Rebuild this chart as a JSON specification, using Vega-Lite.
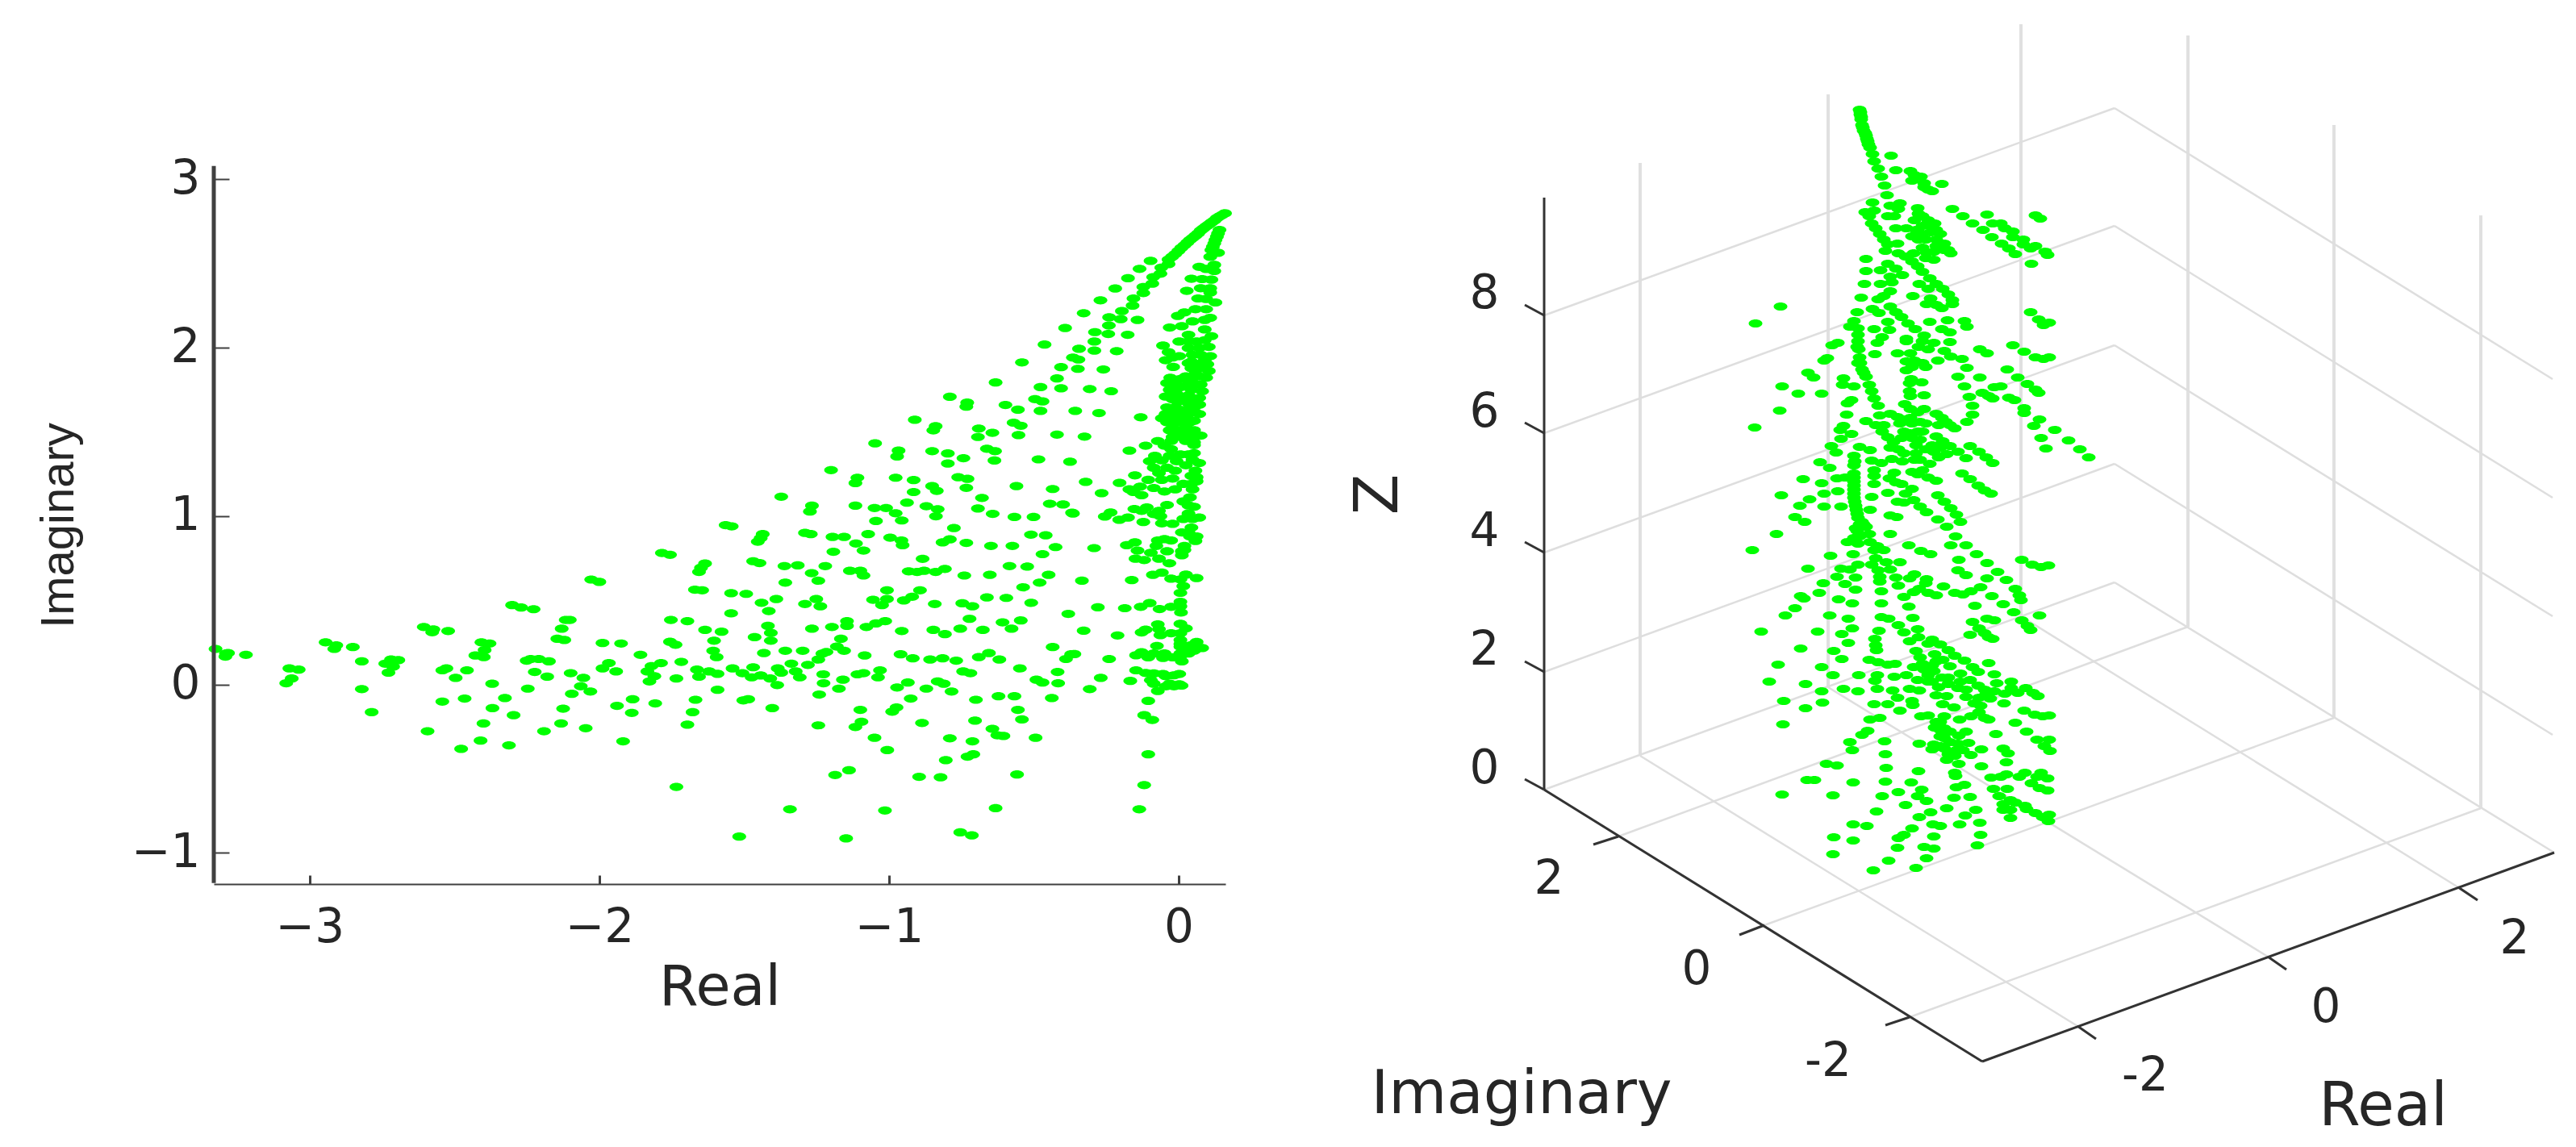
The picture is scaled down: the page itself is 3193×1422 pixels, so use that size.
{"$schema":"https://vega.github.io/schema/vega-lite/v6.json","padding":{"left":44,"top":0,"right":0,"bottom":0},"background":"white","bounds":"flush","spacing":81,"config":{"view":{"stroke":null}},
"datasets":{"left":[
{"r":-3.325,"i":0.211},{"r":-3.289,"i":0.183},{"r":-3.282,"i":0.186},{"r":-3.291,"i":0.165},{"r":-3.22,"i":0.176},{"r":-3.07,"i":0.095},{"r":-3.038,"i":0.088},{"r":-3.062,"i":0.035},{"r":-3.081,"i":0.007},{"r":-2.945,"i":0.25},{"r":-2.908,"i":0.232},{"r":-2.915,"i":0.211},{"r":-2.851,"i":0.222},{"r":-2.82,"i":0.137},{"r":-2.82,"i":-0.028},{"r":-2.786,"i":-0.165},{"r":-2.739,"i":0.123},{"r":-2.719,"i":0.148},{"r":-2.694,"i":0.144},{"r":-2.712,"i":0.106},{"r":-2.728,"i":0.07},{"r":-2.606,"i":0.341},{"r":-2.573,"i":0.327},{"r":-2.577,"i":0.31},{"r":-2.522,"i":0.317},{"r":-2.542,"i":0.084},{"r":-2.528,"i":0.095},{"r":-2.496,"i":0.039},{"r":-2.457,"i":0.084},{"r":-2.542,"i":-0.102},{"r":-2.465,"i":-0.084},{"r":-2.593,"i":-0.278},{"r":-2.477,"i":-0.383},{"r":-2.41,"i":-0.334},{"r":-2.4,"i":-0.232},{"r":-2.369,"i":-0.141},{"r":-2.326,"i":-0.081},{"r":-2.37,"i":0.004},{"r":-2.296,"i":-0.183},{"r":-2.312,"i":-0.362},{"r":-2.407,"i":0.25},{"r":-2.379,"i":0.243},{"r":-2.396,"i":0.204},{"r":-2.428,"i":0.172},{"r":-2.399,"i":0.162},{"r":-2.301,"i":0.471},{"r":-2.27,"i":0.457},{"r":-2.227,"i":0.447},{"r":-2.251,"i":0.141},{"r":-2.237,"i":0.151},{"r":-2.209,"i":0.151},{"r":-2.174,"i":0.137},{"r":-2.223,"i":0.074},{"r":-2.18,"i":0.046},{"r":-2.247,"i":-0.025},{"r":-2.191,"i":-0.278},{"r":-2.132,"i":-0.232},{"r":-2.125,"i":-0.144},{"r":-2.095,"i":-0.056},{"r":-2.099,"i":0.067},{"r":-2.055,"i":0.039},{"r":-2.064,"i":-0.011},{"r":-2.031,"i":-0.042},{"r":-2.047,"i":-0.26},{"r":-2.145,"i":0.271},{"r":-2.121,"i":0.264},{"r":-2.13,"i":0.331},{"r":-2.116,"i":0.383},{"r":-2.102,"i":0.383},{"r":-2.028,"i":0.623},{"r":-2.0,"i":0.609},{"r":-1.989,"i":0.246},{"r":-1.925,"i":0.243},{"r":-1.989,"i":0.095},{"r":-1.967,"i":0.127},{"r":-1.942,"i":0.077},{"r":-1.939,"i":-0.127},{"r":-1.885,"i":-0.088},{"r":-1.888,"i":-0.169},{"r":-1.918,"i":-0.338},{"r":-1.858,"i":0.176},
{"r":-0.392,"i":2.117},{"r":-0.463,"i":2.019},{"r":-0.541,"i":1.913},{"r":-0.632,"i":1.794},{"r":-0.79,"i":1.709},{"r":-0.73,"i":1.674},{"r":-0.733,"i":1.65},{"r":-0.911,"i":1.572},{"r":-0.839,"i":1.534},{"r":-0.847,"i":1.509},{"r":-1.048,"i":1.432},{"r":-0.967,"i":1.389},{"r":-0.972,"i":1.354},{"r":-1.2,"i":1.273},{"r":-1.109,"i":1.228},{"r":-1.116,"i":1.196},{"r":-1.372,"i":1.115},{"r":-1.266,"i":1.062},{"r":-1.273,"i":1.027},{"r":-1.564,"i":0.946},{"r":-1.543,"i":0.939},{"r":-1.784,"i":0.781},{"r":-1.756,"i":0.77},
{"r":-0.477,"i":1.766},{"r":-0.496,"i":1.695},{"r":-0.47,"i":1.681},{"r":-0.477,"i":1.625},{"r":-0.598,"i":1.66},{"r":-0.555,"i":1.632},{"r":-0.57,"i":1.555},{"r":-0.545,"i":1.537},{"r":-0.553,"i":1.481},{"r":-0.69,"i":1.52},{"r":-0.643,"i":1.495},{"r":-0.693,"i":1.47},{"r":-0.42,"i":1.484},{"r":-0.406,"i":1.885},{"r":-0.42,"i":1.818},{"r":-0.406,"i":1.759},{"r":-0.851,"i":1.386},{"r":-0.797,"i":1.372},{"r":-0.743,"i":1.344},{"r":-0.797,"i":1.312},{"r":-0.662,"i":1.4},{"r":-0.634,"i":1.386},{"r":-0.636,"i":1.33},{"r":-0.484,"i":1.337},{"r":-0.375,"i":1.323},{"r":-0.977,"i":1.228},{"r":-0.915,"i":1.214},{"r":-0.915,"i":1.143},{"r":-0.851,"i":1.178},{"r":-0.835,"i":1.15},{"r":-0.761,"i":1.231},{"r":-0.729,"i":1.221},{"r":-0.733,"i":1.168},{"r":-0.679,"i":1.108},{"r":-0.56,"i":1.178},{"r":-0.435,"i":1.161},{"r":-0.938,"i":1.08},{"r":-0.871,"i":1.059},{"r":-0.832,"i":1.041},{"r":-0.838,"i":0.999},{"r":-0.693,"i":1.045},{"r":-0.642,"i":1.013},{"r":-0.567,"i":0.995},{"r":-0.501,"i":0.995},{"r":-0.445,"i":1.073},{"r":-0.399,"i":1.069},{"r":-0.368,"i":1.02},{"r":-1.116,"i":1.062},{"r":-1.05,"i":1.048},{"r":-1.01,"i":1.048},{"r":-0.977,"i":1.017},{"r":-0.956,"i":0.974},{"r":-1.045,"i":0.971},{"r":-0.776,"i":0.929},{"r":-0.51,"i":0.89},{"r":-0.459,"i":0.886},{"r":-0.425,"i":0.816},{"r":-0.47,"i":0.774},{"r":-0.648,"i":0.823},{"r":-0.574,"i":0.823},{"r":-0.733,"i":0.841},{"r":-0.815,"i":0.844},{"r":-0.79,"i":0.862},{"r":-0.996,"i":0.872},{"r":-0.957,"i":0.855},{"r":-0.953,"i":0.827},{"r":-1.072,"i":0.893},{"r":-1.195,"i":0.876},{"r":-1.155,"i":0.876},{"r":-1.114,"i":0.837},{"r":-1.088,"i":0.795},{"r":-1.192,"i":0.788},{"r":-1.29,"i":0.9},{"r":-1.27,"i":0.893},{"r":-1.436,"i":0.893},{"r":-1.443,"i":0.869},{"r":-1.453,"i":0.848},{"r":-1.469,"i":0.732},{"r":-1.447,"i":0.721},{"r":-1.361,"i":0.703},{"r":-1.315,"i":0.707},{"r":-1.22,"i":0.703},{"r":-1.267,"i":0.661},{"r":-1.244,"i":0.616},{"r":-1.135,"i":0.675},{"r":-1.099,"i":0.675},{"r":-1.088,"i":0.647},{"r":-0.884,"i":0.746},{"r":-0.932,"i":0.672},{"r":-0.903,"i":0.668},{"r":-0.879,"i":0.675},{"r":-0.839,"i":0.668},{"r":-0.807,"i":0.686},{"r":-0.74,"i":0.647},{"r":-0.652,"i":0.651},{"r":-0.584,"i":0.703},{"r":-0.523,"i":0.7},{"r":-0.449,"i":0.651},{"r":-0.48,"i":0.605},{"r":-0.537,"i":0.577},{"r":-1.635,"i":0.718},{"r":-1.649,"i":0.693},{"r":-1.656,"i":0.668},{"r":-1.67,"i":0.563},{"r":-1.645,"i":0.559},{"r":-1.545,"i":0.542},{"r":-1.493,"i":0.538},{"r":-1.358,"i":0.605},{"r":-1.389,"i":0.507},{"r":-1.44,"i":0.485},{"r":-1.415,"i":0.436},{"r":-1.545,"i":0.422},{"r":-1.29,"i":0.478},{"r":-1.251,"i":0.507},{"r":-1.237,"i":0.464},{"r":-1.007,"i":0.559},{"r":-0.893,"i":0.559},{"r":-1.007,"i":0.507},{"r":-1.055,"i":0.503},{"r":-1.024,"i":0.471},{"r":-0.949,"i":0.499},{"r":-0.92,"i":0.521},{"r":-0.842,"i":0.478},{"r":-0.747,"i":0.482},{"r":-0.712,"i":0.464},{"r":-0.662,"i":0.517},{"r":-0.595,"i":0.514},{"r":-0.509,"i":0.485},{"r":-0.381,"i":0.419},{"r":-0.722,"i":0.39},{"r":-0.608,"i":0.369},{"r":-0.545,"i":0.38},{"r":-1.753,"i":0.383},{"r":-1.696,"i":0.376},{"r":-1.635,"i":0.324},{"r":-1.578,"i":0.313},{"r":-1.418,"i":0.348},{"r":-1.408,"i":0.306},{"r":-1.464,"i":0.281},{"r":-1.408,"i":0.26},{"r":-1.604,"i":0.26},{"r":-1.607,"i":0.2},{"r":-1.595,"i":0.162},{"r":-1.266,"i":0.331},{"r":-1.197,"i":0.341},{"r":-1.145,"i":0.376},{"r":-1.145,"i":0.348},{"r":-1.078,"i":0.341},{"r":-1.045,"i":0.362},{"r":-1.013,"i":0.376},{"r":-0.956,"i":0.317},{"r":-0.847,"i":0.324},{"r":-0.807,"i":0.299},{"r":-0.754,"i":0.331},{"r":-0.676,"i":0.324},{"r":-0.577,"i":0.331},{"r":-1.166,"i":0.271},{"r":-1.18,"i":0.225},{"r":-1.216,"i":0.193},{"r":-1.155,"i":0.2},{"r":-1.244,"i":0.148},{"r":-1.756,"i":0.253},{"r":-1.737,"i":0.236},{"r":-1.717,"i":0.134},{"r":-1.787,"i":0.127},{"r":-1.82,"i":0.109},{"r":-1.834,"i":0.077},{"r":-1.81,"i":0.049},{"r":-1.827,"i":0.018},{"r":-1.734,"i":0.035},{"r":-1.663,"i":0.088},{"r":-1.656,"i":0.046},{"r":-1.621,"i":0.077},{"r":-1.592,"i":0.063},{"r":-1.54,"i":0.095},{"r":-1.506,"i":0.067},{"r":-1.474,"i":0.042},{"r":-1.469,"i":0.102},{"r":-1.443,"i":0.053},{"r":-1.41,"i":0.035},{"r":-1.384,"i":0.095},{"r":-1.372,"i":0.07},{"r":-1.386,"i":-0.004},{"r":-1.337,"i":0.123},{"r":-1.322,"i":0.077},{"r":-1.308,"i":0.042},{"r":-1.28,"i":0.116},{"r":-1.432,"i":0.186},{"r":-1.358,"i":0.2},{"r":-1.298,"i":0.2},{"r":-1.23,"i":0.183},{"r":-1.084,"i":0.172},{"r":-0.96,"i":0.179},{"r":-0.918,"i":0.155},{"r":-0.858,"i":0.148},{"r":-0.815,"i":0.155},{"r":-0.768,"i":0.141},{"r":-0.69,"i":0.162},{"r":-0.655,"i":0.186},{"r":-0.619,"i":0.148},{"r":-0.435,"i":0.222},{"r":-0.371,"i":0.179},{"r":-0.389,"i":0.151},{"r":-0.548,"i":0.095},{"r":-0.491,"i":0.028},{"r":-0.47,"i":0.011},{"r":-0.418,"i":0.074},{"r":-0.416,"i":0.007},{"r":-1.088,"i":0.067},{"r":-1.109,"i":0.06},{"r":-1.031,"i":0.084},{"r":-1.038,"i":0.042},{"r":-1.227,"i":0.06},{"r":-1.226,"i":0.007},{"r":-1.159,"i":0.028},{"r":-1.173,"i":-0.025},{"r":-1.241,"i":-0.06},{"r":-0.935,"i":0.011},{"r":-0.972,"i":-0.018},{"r":-0.871,"i":-0.025},{"r":-0.832,"i":0.018},{"r":-0.811,"i":0.004},{"r":-0.784,"i":-0.042},{"r":-0.744,"i":0.077},{"r":-0.719,"i":0.067},{"r":-0.925,"i":-0.084},{"r":-0.7,"i":-0.091},{"r":-0.622,"i":-0.07},{"r":-0.567,"i":-0.07},{"r":-0.555,"i":-0.151},{"r":-0.541,"i":-0.208},{"r":-0.989,"i":-0.162},{"r":-0.974,"i":-0.137},{"r":-1.099,"i":-0.151},{"r":-1.095,"i":-0.222},{"r":-1.116,"i":-0.253},{"r":-1.244,"i":-0.243},{"r":-1.403,"i":-0.141},{"r":-1.486,"i":-0.088},{"r":-1.503,"i":-0.095},{"r":-1.592,"i":-0.032},{"r":-1.668,"i":-0.091},{"r":-1.678,"i":-0.165},{"r":-1.696,"i":-0.239},{"r":-1.807,"i":-0.113},{"r":-1.05,"i":-0.317},{"r":-1.006,"i":-0.39},{"r":-0.886,"i":-0.229},{"r":-0.79,"i":-0.32},{"r":-0.712,"i":-0.338},{"r":-0.709,"i":-0.415},{"r":-0.729,"i":-0.429},{"r":-0.804,"i":-0.45},{"r":-0.703,"i":-0.215},{"r":-0.643,"i":-0.264},{"r":-0.626,"i":-0.302},{"r":-0.605,"i":-0.306},{"r":-0.494,"i":-0.317},{"r":-0.558,"i":-0.535},{"r":-0.632,"i":-0.735},{"r":-0.896,"i":-0.549},{"r":-0.822,"i":-0.552},{"r":-1.014,"i":-0.749},{"r":-1.342,"i":-0.742},{"r":-1.186,"i":-0.538},{"r":-1.138,"i":-0.51},{"r":-1.734,"i":-0.609},{"r":-1.517,"i":-0.904},{"r":-1.148,"i":-0.915},{"r":-0.754,"i":-0.879},{"r":-0.714,"i":-0.897},{"r":-0.136,"i":-0.742},{"r":-0.119,"i":-0.598},{"r":-0.105,"i":-0.415},{"r":-0.091,"i":-0.211},{"r":-0.119,"i":-0.183},{"r":-0.105,"i":-0.098},{"r":-0.072,"i":-0.039},{"r":-0.044,"i":-0.011},{"r":-0.016,"i":-0.011},{"r":0.01,"i":-0.007},{"r":-0.307,"i":-0.028},{"r":-0.438,"i":-0.081},
{"r":0.16,"i":2.799},{"r":0.141,"i":2.78},{"r":0.123,"i":2.756},{"r":0.104,"i":2.732},{"r":0.085,"i":2.708},{"r":0.067,"i":2.679},{"r":0.048,"i":2.652},{"r":0.03,"i":2.625},{"r":0.009,"i":2.593},{"r":-0.012,"i":2.556},{"r":-0.035,"i":2.524},{"r":-0.06,"i":2.476},{"r":-0.088,"i":2.42},{"r":-0.122,"i":2.361},{"r":-0.156,"i":2.293},{"r":-0.159,"i":2.25},{"r":-0.196,"i":2.218},{"r":-0.2,"i":2.17},{"r":-0.24,"i":2.181},{"r":-0.241,"i":2.132},{"r":-0.289,"i":2.093},{"r":-0.243,"i":2.082},{"r":-0.291,"i":2.037},{"r":-0.344,"i":1.994},{"r":-0.291,"i":1.983},{"r":-0.214,"i":1.98},{"r":-0.346,"i":1.93},{"r":-0.365,"i":1.942},{"r":-0.348,"i":1.875},{"r":-0.26,"i":1.871},{"r":-0.307,"i":1.755},{"r":-0.233,"i":1.742},{"r":-0.357,"i":1.625},{"r":-0.275,"i":1.612},{"r":-0.131,"i":1.587},{"r":-0.325,"i":1.472},{"r":-0.142,"i":2.165},{"r":-0.176,"i":2.077},{"r":-0.097,"i":2.516},{"r":-0.135,"i":2.469},{"r":-0.175,"i":2.413},{"r":-0.219,"i":2.352},{"r":-0.27,"i":2.282},{"r":-0.328,"i":2.205},{"r":-0.035,"i":2.497},{"r":-0.063,"i":2.44},{"r":-0.091,"i":2.381},{"r":-0.122,"i":2.325},
{"r":0.141,"i":2.7},{"r":0.132,"i":2.66},{"r":0.123,"i":2.62},{"r":0.113,"i":2.58},{"r":0.109,"i":2.54},{"r":0.136,"i":2.564},{"r":0.123,"i":2.492},{"r":0.071,"i":2.481},{"r":0.095,"i":2.468},{"r":0.123,"i":2.456},{"r":0.044,"i":2.41},{"r":0.081,"i":2.408},{"r":0.113,"i":2.405},{"r":0.028,"i":2.338},{"r":0.076,"i":2.354},{"r":0.109,"i":2.354},{"r":0.109,"i":2.328},{"r":0.067,"i":2.293},{"r":0.095,"i":2.29},{"r":0.127,"i":2.269},{"r":0.058,"i":2.229},{"r":0.095,"i":2.229},{"r":0.02,"i":2.21},{"r":-0.003,"i":2.189},{"r":0.109,"i":2.178},{"r":0.09,"i":2.165},{"r":0.048,"i":2.157},{"r":-0.031,"i":2.12},{"r":0.011,"i":2.128},{"r":0.09,"i":2.109},{"r":0.034,"i":2.077},{"r":0.113,"i":2.069},{"r":0.002,"i":2.037},{"r":0.034,"i":2.037},{"r":0.09,"i":2.045},{"r":-0.054,"i":2.013},{"r":-0.035,"i":1.974},{"r":-0.021,"i":1.942},{"r":-0.045,"i":1.926},{"r":0.104,"i":2.005},{"r":0.109,"i":1.95},{"r":0.002,"i":1.95},{"r":0.048,"i":1.958},{"r":0.076,"i":1.958},{"r":-0.019,"i":1.886},{"r":0.099,"i":1.902},{"r":0.062,"i":1.902},{"r":0.104,"i":1.862},{"r":0.058,"i":1.846},{"r":0.095,"i":1.822},{"r":-0.029,"i":1.822},{"r":0.006,"i":1.814},{"r":-0.04,"i":1.79},{"r":0.044,"i":1.814},{"r":0.076,"i":1.782},{"r":0.081,"i":1.742},{"r":0.006,"i":1.766},{"r":-0.045,"i":1.71},{"r":-0.007,"i":1.726},{"r":0.034,"i":1.718},{"r":0.071,"i":1.702},{"r":0.071,"i":1.662},{"r":0.034,"i":1.67},{"r":-0.003,"i":1.678},{"r":-0.031,"i":1.622},{"r":0.016,"i":1.63},{"r":0.053,"i":1.622},{"r":0.071,"i":1.606},{"r":-0.058,"i":1.581},{"r":-0.017,"i":1.59},{"r":0.025,"i":1.582},{"r":0.053,"i":1.566},{"r":-0.021,"i":1.542},{"r":0.025,"i":1.526},{"r":0.053,"i":1.51},{"r":-0.031,"i":1.51},{"r":0.076,"i":1.478},{"r":0.034,"i":1.478},{"r":-0.003,"i":1.478},{"r":-0.072,"i":1.446},{"r":-0.026,"i":1.446},{"r":0.025,"i":1.446},{"r":0.053,"i":1.438},
{"r":-0.17,"i":1.389},{"r":-0.114,"i":1.418},{"r":-0.049,"i":1.418},{"r":-0.026,"i":1.398},{"r":0.053,"i":1.422},{"r":-0.082,"i":1.358},{"r":0.006,"i":1.366},{"r":0.053,"i":1.374},{"r":-0.1,"i":1.326},{"r":-0.058,"i":1.331},{"r":-0.007,"i":1.326},{"r":0.048,"i":1.334},{"r":0.071,"i":1.315},{"r":-0.086,"i":1.287},{"r":-0.012,"i":1.27},{"r":0.058,"i":1.27},{"r":-0.068,"i":1.255},{"r":-0.151,"i":1.242},{"r":0.044,"i":1.239},{"r":0.062,"i":1.231},{"r":-0.321,"i":1.203},{"r":-0.204,"i":1.197},{"r":-0.105,"i":1.215},{"r":-0.058,"i":1.215},{"r":-0.021,"i":1.223},{"r":0.016,"i":1.191},{"r":0.062,"i":1.207},{"r":-0.133,"i":1.175},{"r":-0.17,"i":1.159},{"r":-0.086,"i":1.167},{"r":-0.049,"i":1.146},{"r":-0.012,"i":1.159},{"r":-0.266,"i":1.136},{"r":-0.128,"i":1.124},{"r":-0.156,"i":1.143},{"r":0.048,"i":1.159},{"r":0.039,"i":1.111},{"r":0.016,"i":1.087},{"r":-0.04,"i":1.066},{"r":-0.153,"i":1.042},{"r":-0.11,"i":1.052},{"r":-0.128,"i":1.031},{"r":0.053,"i":1.055},{"r":-0.068,"i":1.031},{"r":-0.086,"i":1.012},{"r":-0.063,"i":0.999},{"r":-0.235,"i":1.021},{"r":-0.255,"i":0.997},{"r":-0.205,"i":0.978},{"r":-0.175,"i":0.991},{"r":-0.122,"i":0.965},{"r":-0.058,"i":0.957},{"r":-0.021,"i":0.954},{"r":0.016,"i":0.983},{"r":0.048,"i":0.983},{"r":0.071,"i":0.991},{"r":-0.365,"i":1.015},{"r":0.044,"i":0.932},{"r":0.011,"i":0.903},{"r":0.039,"i":0.879},{"r":0.062,"i":0.879},{"r":0.058,"i":0.852},{"r":-0.151,"i":0.844},{"r":-0.179,"i":0.827},{"r":-0.072,"i":0.855},{"r":-0.049,"i":0.863},{"r":-0.026,"i":0.855},{"r":-0.292,"i":0.81},{"r":-0.077,"i":0.823},{"r":0.02,"i":0.823},{"r":-0.142,"i":0.795},{"r":-0.096,"i":0.782},{"r":-0.04,"i":0.791},{"r":0.011,"i":0.791},{"r":0.02,"i":0.799},{"r":-0.149,"i":0.747},{"r":-0.119,"i":0.739},{"r":-0.068,"i":0.747},{"r":-0.032,"i":0.72},{"r":0.011,"i":0.767},{"r":-0.058,"i":0.664},{"r":-0.089,"i":0.651},{"r":0.025,"i":0.652},{"r":0.062,"i":0.632},{"r":-0.026,"i":0.628},{"r":0.006,"i":0.624},{"r":-0.334,"i":0.616},{"r":-0.162,"i":0.62},{"r":0.016,"i":0.584},{"r":0.006,"i":0.544},{"r":-0.1,"i":0.483},{"r":0.006,"i":0.491},{"r":-0.131,"i":0.461},{"r":-0.026,"i":0.461},{"r":-0.279,"i":0.458},{"r":-0.186,"i":0.453},{"r":-0.066,"i":0.448},{"r":0.006,"i":0.464},{"r":0.008,"i":0.427},{"r":-0.072,"i":0.357},{"r":0.006,"i":0.36},{"r":-0.114,"i":0.325},{"r":-0.128,"i":0.309},{"r":-0.068,"i":0.328},{"r":0.025,"i":0.333},{"r":-0.328,"i":0.319},{"r":-0.211,"i":0.291},{"r":-0.063,"i":0.293},{"r":-0.026,"i":0.304},{"r":0.006,"i":0.304},{"r":0.006,"i":0.264},{"r":0.062,"i":0.252},{"r":-0.075,"i":0.229},{"r":0.006,"i":0.224},{"r":0.081,"i":0.216},{"r":0.053,"i":0.2},{"r":0.034,"i":0.184},{"r":-0.128,"i":0.191},{"r":-0.147,"i":0.173},{"r":-0.24,"i":0.151},{"r":-0.36,"i":0.18},{"r":-0.086,"i":0.184},{"r":-0.049,"i":0.184},{"r":-0.105,"i":0.161},{"r":-0.054,"i":0.157},{"r":-0.021,"i":0.161},{"r":0.011,"i":0.137},{"r":-0.147,"i":0.084},{"r":-0.114,"i":0.068},{"r":-0.086,"i":0.065},{"r":-0.054,"i":0.062},{"r":0.002,"i":0.062},{"r":-0.045,"i":0.049},{"r":-0.017,"i":0.054},{"r":-0.269,"i":0.039},{"r":-0.167,"i":0.021},{"r":-0.096,"i":0.025},{"r":-0.086,"i":0.004},{"r":-0.031,"i":0.004},{"r":0.002,"i":0.001},
{"r":0.034,"i":1.909},{"r":0.081,"i":1.909},{"r":0.044,"i":1.878},{"r":0.071,"i":1.878},{"r":0.025,"i":1.83},{"r":0.071,"i":1.83},{"r":-0.021,"i":1.782},{"r":0.034,"i":1.782},{"r":0.058,"i":1.782},{"r":-0.031,"i":1.75},{"r":0.044,"i":1.75},{"r":-0.021,"i":1.694},{"r":0.016,"i":1.694},{"r":0.053,"i":1.694},{"r":-0.04,"i":1.646},{"r":-0.012,"i":1.646},{"r":0.053,"i":1.646},{"r":-0.045,"i":1.606},{"r":0.002,"i":1.606},{"r":0.034,"i":1.606},{"r":-0.04,"i":1.558},{"r":0.002,"i":1.558},{"r":0.039,"i":1.558},{"r":-0.003,"i":1.51},{"r":0.016,"i":1.51},{"r":-0.021,"i":1.47},{"r":0.006,"i":1.47},{"r":0.053,"i":1.47},{"r":0.062,"i":2.037},{"r":0.071,"i":1.998},{"r":0.034,"i":1.998},{"r":0.09,"i":1.926},{"r":0.044,"i":1.918},{"r":0.15,"i":2.789},{"r":0.132,"i":2.77},{"r":0.113,"i":2.744},{"r":0.095,"i":2.721},{"r":0.076,"i":2.696},{"r":0.058,"i":2.666},{"r":0.039,"i":2.64},{"r":0.02,"i":2.609},{"r":-0.001,"i":2.575},{"r":-0.023,"i":2.54},{"r":0.136,"i":2.679},{"r":0.127,"i":2.64},{"r":0.118,"i":2.6},{"r":0.034,"i":1.366},{"r":-0.031,"i":1.358},{"r":0.025,"i":1.302},{"r":-0.04,"i":1.287},{"r":0.044,"i":1.191},{"r":0.034,"i":1.063},{"r":0.034,"i":1.015},{"r":0.034,"i":0.903},{"r":0.006,"i":0.24},{"r":0.006,"i":0.184},{"r":0.006,"i":0.168},{"r":0.025,"i":0.216},{"r":0.044,"i":0.233}
],
"right":[
{"u":2305,"v":136},{"u":2306,"v":142},{"u":2307,"v":148},{"u":2308,"v":155},{"u":2310,"v":162},{"u":2313,"v":168},{"u":2315,"v":175},{"u":2318,"v":183},{"u":2321,"v":191},{"u":2323,"v":200},{"u":2328,"v":209},{"u":2332,"v":219},{"u":2336,"v":230},{"u":2339,"v":242},{"u":2344,"v":193},{"u":2350,"v":211},{"u":2368,"v":212},{"u":2373,"v":217},{"u":2381,"v":219},{"u":2370,"v":224},{"u":2385,"v":227},{"u":2407,"v":228},{"u":2385,"v":232},{"u":2395,"v":237},{"u":2390,"v":235},{"u":2321,"v":251},{"u":2355,"v":252},{"u":2343,"v":255},{"u":2353,"v":259},{"u":2323,"v":261},{"u":2312,"v":263},{"u":2317,"v":268},{"u":2340,"v":268},{"u":2348,"v":268},{"u":2320,"v":277},{"u":2325,"v":283},{"u":2330,"v":290},{"u":2335,"v":297},{"u":2340,"v":303},{"u":2352,"v":302},{"u":2350,"v":283},{"u":2363,"v":283},{"u":2377,"v":258},{"u":2378,"v":265},{"u":2383,"v":268},{"u":2373,"v":273},{"u":2390,"v":273},{"u":2398,"v":277},{"u":2383,"v":280},{"u":2400,"v":285},{"u":2393,"v":288},{"u":2370,"v":293},{"u":2378,"v":297},{"u":2387,"v":297},{"u":2400,"v":297},{"u":2410,"v":302},{"u":2383,"v":307},{"u":2397,"v":312},{"u":2418,"v":314},{"u":2415,"v":310},{"u":2337,"v":311},{"u":2353,"v":314},{"u":2372,"v":314},{"u":2362,"v":318},{"u":2370,"v":324},{"u":2377,"v":330},{"u":2383,"v":337},{"u":2392,"v":345},{"u":2400,"v":352},{"u":2387,"v":320},{"u":2397,"v":322},{"u":2313,"v":321},{"u":2340,"v":327},{"u":2350,"v":333},{"u":2313,"v":336},{"u":2331,"v":335},{"u":2358,"v":341},{"u":2343,"v":343},{"u":2311,"v":352},{"u":2331,"v":352},{"u":2345,"v":350},{"u":2379,"v":352},{"u":2390,"v":358},{"u":2408,"v":358},{"u":2415,"v":365},{"u":2420,"v":372},{"u":2343,"v":361},{"u":2335,"v":367},{"u":2328,"v":371},{"u":2307,"v":369},{"u":2371,"v":367},{"u":2393,"v":370},{"u":2388,"v":377},{"u":2400,"v":378},{"u":2407,"v":382},{"u":2420,"v":377},{"u":2343,"v":380},{"u":2321,"v":383},{"u":2329,"v":388},{"u":2302,"v":387},{"u":2350,"v":387},{"u":2357,"v":393},{"u":2365,"v":401},{"u":2340,"v":399},{"u":2298,"v":398},{"u":2293,"v":405},{"u":2303,"v":407},{"u":2323,"v":408},{"u":2342,"v":409},{"u":2374,"v":408},{"u":2392,"v":399},{"u":2414,"v":397},{"u":2435,"v":398},{"u":2438,"v":405},{"u":2407,"v":408},{"u":2417,"v":412},{"u":2303,"v":415},{"u":2333,"v":418},{"u":2385,"v":416},{"u":2363,"v":420},{"u":2420,"v":259},{"u":2433,"v":268},{"u":2445,"v":277},{"u":2458,"v":285},{"u":2469,"v":294},{"u":2481,"v":302},{"u":2490,"v":308},{"u":2498,"v":315},{"u":2463,"v":266},{"u":2470,"v":277},{"u":2480,"v":277},{"u":2485,"v":283},{"u":2495,"v":287},{"u":2495,"v":294},{"u":2508,"v":297},{"u":2508,"v":303},{"u":2517,"v":308},{"u":2523,"v":305},{"u":2535,"v":312},{"u":2538,"v":316},{"u":2518,"v":327},{"u":2523,"v":267},{"u":2529,"v":271},{"u":2207,"v":380},{"u":2176,"v":401},{"u":2517,"v":387},{"u":2527,"v":396},{"u":2540,"v":400},{"u":2533,"v":403},
{"u":2303,"v":423},{"u":2304,"v":433},{"u":2305,"v":443},{"u":2303,"v":450},{"u":2308,"v":458},{"u":2313,"v":467},{"u":2317,"v":477},{"u":2320,"v":485},{"u":2323,"v":494},{"u":2328,"v":503},{"u":2278,"v":425},{"u":2271,"v":428},{"u":2265,"v":444},{"u":2261,"v":447},{"u":2324,"v":439},{"u":2327,"v":425},{"u":2363,"v":423},{"u":2383,"v":423},{"u":2397,"v":425},{"u":2378,"v":430},{"u":2390,"v":433},{"u":2417,"v":424},{"u":2410,"v":435},{"u":2418,"v":442},{"u":2432,"v":445},{"u":2454,"v":433},{"u":2463,"v":438},{"u":2495,"v":428},{"u":2509,"v":436},{"u":2523,"v":443},{"u":2533,"v":445},{"u":2540,"v":443},{"u":2352,"v":438},{"u":2368,"v":438},{"u":2363,"v":448},{"u":2373,"v":447},{"u":2383,"v":450},{"u":2370,"v":455},{"u":2387,"v":455},{"u":2363,"v":459},{"u":2402,"v":447},{"u":2438,"v":456},{"u":2488,"v":458},{"u":2427,"v":467},{"u":2454,"v":468},{"u":2501,"v":468},{"u":2513,"v":476},{"u":2523,"v":483},{"u":2527,"v":487},{"u":2369,"v":470},{"u":2382,"v":474},{"u":2367,"v":475},{"u":2435,"v":479},{"u":2472,"v":480},{"u":2480,"v":479},{"u":2367,"v":485},{"u":2368,"v":491},{"u":2385,"v":490},{"u":2457,"v":487},{"u":2465,"v":491},{"u":2470,"v":494},{"u":2441,"v":492},{"u":2490,"v":493},{"u":2497,"v":496},{"u":2241,"v":462},{"u":2248,"v":468},{"u":2285,"v":469},{"u":2284,"v":477},{"u":2298,"v":479},{"u":2209,"v":479},{"u":2229,"v":488},{"u":2258,"v":488},{"u":2295,"v":496},{"u":2290,"v":500},{"u":2206,"v":509},{"u":2361,"v":501},{"u":2368,"v":507},{"u":2377,"v":511},{"u":2385,"v":507},{"u":2445,"v":503},{"u":2445,"v":514},{"u":2438,"v":523},{"u":2509,"v":506},{"u":2509,"v":512},{"u":2289,"v":514},{"u":2330,"v":515},{"u":2343,"v":513},{"u":2352,"v":517},{"u":2360,"v":520},{"u":2368,"v":518},{"u":2380,"v":523},{"u":2400,"v":513},{"u":2407,"v":518},{"u":2412,"v":523},{"u":2417,"v":527},{"u":2423,"v":531},{"u":2403,"v":527},{"u":2313,"v":522},{"u":2325,"v":527},{"u":2335,"v":527},{"u":2285,"v":528},{"u":2281,"v":533},{"u":2295,"v":538},{"u":2175,"v":530},{"u":2528,"v":520},{"u":2521,"v":528},{"u":2547,"v":533},{"u":2530,"v":543},{"u":2564,"v":546},{"u":2536,"v":556},{"u":2578,"v":557},{"u":2589,"v":567},{"u":2333,"v":535},{"u":2340,"v":542},{"u":2347,"v":548},{"u":2357,"v":543},{"u":2367,"v":537},{"u":2377,"v":535},{"u":2383,"v":535},{"u":2370,"v":543},{"u":2375,"v":552},{"u":2400,"v":541},{"u":2408,"v":547},{"u":2417,"v":553},{"u":2427,"v":560},{"u":2437,"v":568},{"u":2442,"v":553},{"u":2453,"v":560},{"u":2462,"v":567},{"u":2470,"v":574},{"u":2343,"v":555},{"u":2353,"v":557},{"u":2360,"v":562},{"u":2387,"v":557},{"u":2397,"v":560},{"u":2403,"v":567},{"u":2413,"v":563},{"u":2282,"v":544},{"u":2270,"v":553},{"u":2276,"v":561},{"u":2305,"v":554},{"u":2318,"v":558},{"u":2298,"v":565},{"u":2256,"v":573},{"u":2268,"v":580},{"u":2320,"v":571},{"u":2332,"v":574},{"u":2345,"v":569},{"u":2358,"v":572},{"u":2373,"v":570},{"u":2380,"v":570},{"u":2392,"v":575},{"u":2383,"v":583},{"u":2370,"v":585},{"u":2377,"v":588},{"u":2348,"v":586},{"u":2323,"v":583},{"u":2323,"v":590},{"u":2342,"v":593},{"u":2390,"v":592},{"u":2400,"v":596},{"u":2432,"v":587},{"u":2442,"v":594},{"u":2452,"v":602},{"u":2460,"v":608},{"u":2468,"v":612},{"u":2235,"v":594},{"u":2258,"v":599},{"u":2277,"v":593},{"u":2287,"v":592},{"u":2298,"v":577},{"u":2298,"v":587},{"u":2298,"v":597},{"u":2298,"v":607},{"u":2298,"v":617},{"u":2300,"v":627},{"u":2302,"v":637},{"u":2323,"v":600},{"u":2350,"v":598},{"u":2357,"v":600},{"u":2370,"v":606},{"u":2362,"v":612},{"u":2340,"v":611},{"u":2261,"v":612},{"u":2278,"v":609},{"u":2208,"v":614},{"u":2320,"v":616},{"u":2402,"v":614},{"u":2410,"v":622},{"u":2418,"v":630},{"u":2425,"v":638},{"u":2430,"v":647},{"u":2372,"v":620},{"u":2380,"v":628},{"u":2388,"v":635},{"u":2352,"v":622},{"u":2360,"v":623},{"u":2243,"v":619},{"u":2231,"v":627},{"u":2261,"v":628},{"u":2282,"v":628},{"u":2318,"v":632},{"u":2343,"v":639},{"u":2351,"v":641},{"u":2225,"v":641},{"u":2237,"v":647},{"u":2402,"v":644},{"u":2413,"v":653},{"u":2308,"v":647},{"u":2313,"v":653},{"u":2302,"v":658},{"u":2317,"v":662},{"u":2202,"v":662},{"u":2343,"v":662},{"u":2424,"v":665},{"u":2290,"v":672},{"u":2303,"v":674},{"u":2318,"v":672},{"u":2327,"v":677},{"u":2335,"v":682},{"u":2418,"v":676},{"u":2437,"v":676},{"u":2366,"v":676},{"u":2381,"v":683},{"u":2393,"v":687},{"u":2450,"v":687},{"u":2297,"v":687},{"u":2323,"v":682},{"u":2172,"v":682},{"u":2269,"v":689},{"u":2325,"v":692},{"u":2338,"v":697},{"u":2355,"v":697},{"u":2428,"v":694},{"u":2463,"v":698},{"u":2303,"v":700},{"u":2320,"v":700},{"u":2506,"v":694},{"u":2519,"v":700},{"u":2530,"v":703},{"u":2539,"v":701},{"u":2282,"v":705},{"u":2293,"v":706},{"u":2241,"v":705},{"u":2343,"v":706},{"u":2328,"v":707},{"u":2427,"v":707},{"u":2437,"v":713},{"u":2476,"v":709},{"u":2373,"v":712},{"u":2367,"v":717},{"u":2277,"v":715},{"u":2300,"v":716},{"u":2350,"v":716},{"u":2388,"v":718},{"u":2463,"v":717},{"u":2487,"v":719},{"u":2330,"v":715},
{"u":2232,"v":739},{"u":2236,"v":742},{"u":2255,"v":735},{"u":2279,"v":743},{"u":2296,"v":748},{"u":2225,"v":754},{"u":2213,"v":763},{"u":2268,"v":763},{"u":2291,"v":767},{"u":2260,"v":723},{"u":2287,"v":724},{"u":2300,"v":731},{"u":2332,"v":733},{"u":2330,"v":721},{"u":2353,"v":726},{"u":2372,"v":734},{"u":2379,"v":730},{"u":2360,"v":740},{"u":2390,"v":735},{"u":2400,"v":738},{"u":2387,"v":723},{"u":2409,"v":727},{"u":2423,"v":735},{"u":2433,"v":737},{"u":2443,"v":733},{"u":2455,"v":728},{"u":2498,"v":730},{"u":2503,"v":738},{"u":2505,"v":744},{"u":2469,"v":739},{"u":2448,"v":751},{"u":2483,"v":749},{"u":2332,"v":748},{"u":2366,"v":752},{"u":2496,"v":759},{"u":2528,"v":763},{"u":2371,"v":766},{"u":2332,"v":765},{"u":2341,"v":767},{"u":2506,"v":769},{"u":2445,"v":771},{"u":2463,"v":767},{"u":2472,"v":769},{"u":2513,"v":776},{"u":2517,"v":781},{"u":2353,"v":775},{"u":2296,"v":779},{"u":2183,"v":783},{"u":2253,"v":783},{"u":2283,"v":786},{"u":2329,"v":782},{"u":2360,"v":784},{"u":2377,"v":780},{"u":2442,"v":787},{"u":2453,"v":779},{"u":2460,"v":785},{"u":2465,"v":790},{"u":2470,"v":792},{"u":2324,"v":792},{"u":2291,"v":797},{"u":2325,"v":800},{"u":2326,"v":806},{"u":2232,"v":804},{"u":2273,"v":807},{"u":2283,"v":817},{"u":2378,"v":790},{"u":2367,"v":795},{"u":2395,"v":793},{"u":2390,"v":798},{"u":2405,"v":799},{"u":2415,"v":806},{"u":2375,"v":807},{"u":2398,"v":811},{"u":2423,"v":813},{"u":2380,"v":815},{"u":2408,"v":818},{"u":2435,"v":819},{"u":2317,"v":818},{"u":2328,"v":821},{"u":2340,"v":824},{"u":2349,"v":823},{"u":2204,"v":824},{"u":2258,"v":827},{"u":2465,"v":822},{"u":2383,"v":823},{"u":2372,"v":827},{"u":2417,"v":826},{"u":2445,"v":827},{"u":2452,"v":833},{"u":2397,"v":832},{"u":2390,"v":837},{"u":2430,"v":835},{"u":2272,"v":837},{"u":2304,"v":837},{"u":2327,"v":837},{"u":2348,"v":839},{"u":2363,"v":837},{"u":2472,"v":836},{"u":2193,"v":845},{"u":2238,"v":848},{"u":2324,"v":844},{"u":2377,"v":843},{"u":2390,"v":845},{"u":2407,"v":840},{"u":2442,"v":843},{"u":2475,"v":847},{"u":2493,"v":845},{"u":2285,"v":854},{"u":2303,"v":857},{"u":2327,"v":854},{"u":2346,"v":856},{"u":2367,"v":854},{"u":2379,"v":856},{"u":2403,"v":852},{"u":2415,"v":848},{"u":2427,"v":853},{"u":2437,"v":855},{"u":2452,"v":850},{"u":2462,"v":860},{"u":2472,"v":857},{"u":2485,"v":860},{"u":2493,"v":853},{"u":2501,"v":859},{"u":2511,"v":853},{"u":2520,"v":859},{"u":2526,"v":863},{"u":2258,"v":857},{"u":2211,"v":869},{"u":2259,"v":871},{"u":2238,"v":878},{"u":2352,"v":865},{"u":2370,"v":869},{"u":2400,"v":862},{"u":2413,"v":863},{"u":2437,"v":864},{"u":2453,"v":865},{"u":2467,"v":866},{"u":2484,"v":872},{"u":2323,"v":873},{"u":2340,"v":873},{"u":2371,"v":874},{"u":2408,"v":873},{"u":2422,"v":877},{"u":2447,"v":872},{"u":2455,"v":875},{"u":2355,"v":881},{"u":2509,"v":881},{"u":2522,"v":886},{"u":2532,"v":888},{"u":2540,"v":887},{"u":2381,"v":888},{"u":2390,"v":887},{"u":2410,"v":888},{"u":2453,"v":883},{"u":2443,"v":888},{"u":2460,"v":890},{"u":2465,"v":892},{"u":2429,"v":892},{"u":2318,"v":892},{"u":2330,"v":890},{"u":2210,"v":898},{"u":2498,"v":896},{"u":2400,"v":895},{"u":2398,"v":902},{"u":2410,"v":903},{"u":2417,"v":907},{"u":2437,"v":907},{"u":2428,"v":912},{"u":2315,"v":906},{"u":2308,"v":911},{"u":2474,"v":910},{"u":2512,"v":907},{"u":2405,"v":913},{"u":2293,"v":920},{"u":2336,"v":919},{"u":2379,"v":922},{"u":2525,"v":917},{"u":2540,"v":917},{"u":2397,"v":923},{"u":2417,"v":920},{"u":2427,"v":922},{"u":2440,"v":921},{"u":2534,"v":925},{"u":2541,"v":931},{"u":2296,"v":930},{"u":2395,"v":929},{"u":2410,"v":928},{"u":2420,"v":932},{"u":2433,"v":930},{"u":2456,"v":929},{"u":2483,"v":928},{"u":2489,"v":934},{"u":2337,"v":935},{"u":2443,"v":936},{"u":2423,"v":937},{"u":2413,"v":942},{"u":2428,"v":947},{"u":2487,"v":945},{"u":2264,"v":947},{"u":2277,"v":949},{"u":2338,"v":952},{"u":2456,"v":950},{"u":2378,"v":956},{"u":2423,"v":958},{"u":2424,"v":962},{"u":2468,"v":964},{"u":2480,"v":963},{"u":2487,"v":960},{"u":2510,"v":958},{"u":2503,"v":963},{"u":2530,"v":958},{"u":2538,"v":965},{"u":2525,"v":963},{"u":2518,"v":971},{"u":2240,"v":967},{"u":2249,"v":967},{"u":2297,"v":970},{"u":2337,"v":969},{"u":2369,"v":970},{"u":2435,"v":973},{"u":2425,"v":976},{"u":2382,"v":979},{"u":2471,"v":978},{"u":2488,"v":978},{"u":2528,"v":977},{"u":2538,"v":980},{"u":2209,"v":985},{"u":2272,"v":986},{"u":2353,"v":982},{"u":2333,"v":987},{"u":2377,"v":987},{"u":2478,"v":987},{"u":2422,"v":989},{"u":2442,"v":988},{"u":2388,"v":993},{"u":2492,"v":992},{"u":2498,"v":995},{"u":2483,"v":997},{"u":2362,"v":998},{"u":2510,"v":999},{"u":2512,"v":1003},{"u":2413,"v":1002},{"u":2449,"v":1004},{"u":2483,"v":1004},{"u":2492,"v":1004},{"u":2326,"v":1006},{"u":2393,"v":1007},{"u":2523,"v":1008},{"u":2540,"v":1010},{"u":2532,"v":1013},{"u":2539,"v":1018},{"u":2436,"v":1011},{"u":2379,"v":1013},{"u":2492,"v":1014},{"u":2297,"v":1022},{"u":2314,"v":1024},{"u":2396,"v":1022},{"u":2405,"v":1024},{"u":2429,"v":1022},{"u":2454,"v":1020},{"u":2370,"v":1027},{"u":2273,"v":1038},{"u":2297,"v":1042},{"u":2360,"v":1035},{"u":2353,"v":1039},{"u":2397,"v":1037},{"u":2455,"v":1035},{"u":2352,"v":1051},{"u":2385,"v":1050},{"u":2397,"v":1052},{"u":2451,"v":1048},{"u":2272,"v":1059},{"u":2341,"v":1067},{"u":2388,"v":1064},{"u":2322,"v":1079},{"u":2375,"v":1076},
{"u":2306,"v":139},{"u":2307,"v":145},{"u":2309,"v":158},{"u":2312,"v":165},{"u":2314,"v":172},{"u":2316,"v":179},{"u":2383,"v":290},{"u":2393,"v":280},{"u":2405,"v":290},{"u":2410,"v":310},{"u":2375,"v":285},{"u":2400,"v":305},{"u":2388,"v":313},{"u":2360,"v":535},{"u":2370,"v":525},{"u":2380,"v":545},{"u":2395,"v":552},{"u":2355,"v":525},{"u":2405,"v":555},{"u":2387,"v":525},{"u":2375,"v":562},{"u":2302,"v":430},{"u":2306,"v":450},{"u":2310,"v":462},{"u":2299,"v":572},{"u":2298,"v":592},{"u":2298,"v":602},{"u":2298,"v":612},{"u":2299,"v":622},{"u":2301,"v":632},{"u":2303,"v":642},{"u":2305,"v":650},{"u":2300,"v":655},{"u":2310,"v":650},{"u":2305,"v":665},{"u":2298,"v":667},{"u":2400,"v":820},{"u":2395,"v":825},{"u":2385,"v":830},{"u":2415,"v":840},{"u":2430,"v":845},{"u":2395,"v":845},{"u":2460,"v":855},{"u":2410,"v":915},{"u":2405,"v":925},{"u":2415,"v":935},{"u":2425,"v":930},{"u":2405,"v":905},{"u":2405,"v":895}
],
"gridSlant":[
{"u":1914,"v":979,"u2":2621,"v2":722},{"u":2621,"v":722,"u2":3166,"v2":1057},
{"u":1914,"v":833,"u2":2621,"v2":575},{"u":2621,"v":575,"u2":3164,"v2":911},
{"u":1914,"v":685,"u2":2621,"v2":428},{"u":2621,"v":428,"u2":3164,"v2":764},
{"u":1914,"v":537,"u2":2621,"v2":280},{"u":2621,"v":280,"u2":3164,"v2":617},
{"u":1914,"v":391,"u2":2621,"v2":134},{"u":2621,"v":134,"u2":3164,"v2":470},
{"u":2006,"v":1037,"u2":2712,"v2":777},{"u":2187,"v":1147,"u2":2893,"v2":890},{"u":2367,"v":1261,"u2":3075,"v2":1002},
{"u":2575,"v":1272,"u2":2033,"v2":937},{"u":2811,"v":1186,"u2":2266,"v2":852},{"u":3047,"v":1100,"u2":2505,"v2":764}
],
"gridVert":[
{"u":2033,"v":937,"u2":2033,"v2":202},{"u":2266,"v":852,"u2":2266,"v2":117},{"u":2505,"v":764,"u2":2505,"v2":30},{"u":2712,"v":777,"u2":2712,"v2":44},{"u":2893,"v":890,"u2":2893,"v2":155},{"u":3075,"v":1002,"u2":3075,"v2":267}
],
"axisLines":[
{"u":1914,"v":979,"u2":1914,"v2":245},{"u":1914,"v":979,"u2":2457,"v2":1316},{"u":2457,"v":1316,"u2":3166,"v2":1057},
{"u":1914,"v":391,"u2":1890,"v2":378},{"u":1914,"v":537,"u2":1890,"v2":524},{"u":1914,"v":685,"u2":1890,"v2":672},{"u":1914,"v":833,"u2":1890,"v2":820},{"u":1914,"v":979,"u2":1890,"v2":966},
{"u":2006,"v":1037,"u2":1975,"v2":1047},{"u":2187,"v":1147,"u2":2156,"v2":1159},{"u":2367,"v":1261,"u2":2337,"v2":1271},
{"u":2575,"v":1272,"u2":2598,"v2":1288},{"u":2811,"v":1186,"u2":2834,"v2":1202},{"u":3047,"v":1100,"u2":3071,"v2":1116}
],
"tickText":[
{"u":1840,"v":365,"t":"8"},{"u":1840,"v":512,"t":"6"},{"u":1840,"v":660,"t":"4"},{"u":1840,"v":807,"t":"2"},{"u":1840,"v":954,"t":"0"},
{"u":1920,"v":1091,"t":"2"},{"u":2103,"v":1203,"t":"0"},{"u":2266,"v":1317,"t":"-2"},
{"u":2659,"v":1335,"t":"-2"},{"u":2883,"v":1250,"t":"0"},{"u":3117,"v":1165,"t":"2"}
],
"titleText":[{"u":1886,"v":1358,"t":"Imaginary"},{"u":2954,"v":1373,"t":"Real"}],
"zText":[{"u":1710,"v":613,"t":"Z"}]
},
"hconcat":[
{"width":1254,"height":1422,"layer":[
{"data":{"name":"left"},"mark":{"type":"point","filled":true,"opacity":1,"size":290,"color":"#00ff00","strokeWidth":0,"shape":"M -1 0 A 1 0.6 0 1 0 1 0 A 1 0.6 0 1 0 -1 0 Z"},
"encoding":{
"x":{"field":"r","type":"quantitative","scale":{"domain":[-3.331,0.1616],"nice":false,"zero":false},"axis":{"title":"Real","values":[-3,-2,-1,0],"format":"d","offset":-326,"grid":false,"domainColor":"#404040","domainWidth":2,"tickColor":"#404040","tickSize":-11,"tickWidth":3,"labelFont":"DejaVu Sans","labelFontSize":58,"labelColor":"#262626","labelPadding":36,"labelFlush":false,"labelOverlap":false,"titleFont":"DejaVu Sans","titleFontSize":70,"titleFontWeight":"normal","titleColor":"#262626","titleY":149,"titleBaseline":"alphabetic"}},
"y":{"field":"i","type":"quantitative","scale":{"domain":[-2.748,4.066],"nice":false,"zero":false},"axis":{"title":"Imaginary","values":[-1,0,1,2,3],"format":"d","domain":false,"grid":false,"tickColor":"#404040","tickSize":-19,"tickWidth":2,"labelFont":"DejaVu Sans","labelFontSize":58,"labelColor":"#262626","labelPadding":36,"labelFlush":false,"labelOverlap":false,"titleFont":"Liberation Sans","titleFontSize":58,"titleFontWeight":"normal","titleColor":"#262626","titleX":-175,"titleY":651,"titleAngle":270,"titleBaseline":"alphabetic"}}}},
{"data":{"values":[{}]},"mark":{"type":"rule","color":"#404040","strokeWidth":5},"encoding":{"x":{"datum":-3.331,"type":"quantitative"},"y":{"datum":-1.18,"type":"quantitative"},"y2":{"datum":3.08}}}
]},
{"width":1593,"height":1422,"encoding":{"x":{"field":"u","type":"quantitative","scale":{"domain":[1600,3193],"nice":false,"zero":false},"axis":null},"y":{"field":"v","type":"quantitative","scale":{"domain":[1422,0],"nice":false,"zero":false},"axis":null}},"layer":[
{"data":{"name":"gridVert"},"mark":{"type":"rule","color":"#e0e0e0","strokeWidth":4},"encoding":{"x2":{"field":"u2"},"y2":{"field":"v2"}}},
{"data":{"name":"gridSlant"},"mark":{"type":"rule","color":"#dedede","strokeWidth":2.5},"encoding":{"x2":{"field":"u2"},"y2":{"field":"v2"}}},
{"data":{"name":"axisLines"},"mark":{"type":"rule","color":"#333333","strokeWidth":3},"encoding":{"x2":{"field":"u2"},"y2":{"field":"v2"}}},
{"data":{"name":"right"},"mark":{"type":"point","filled":true,"opacity":1,"size":290,"color":"#00ff00","strokeWidth":0,"shape":"M -1 0 A 1 0.6 0 1 0 1 0 A 1 0.6 0 1 0 -1 0 Z"}},
{"data":{"name":"tickText"},"mark":{"type":"text","font":"DejaVu Sans","fontSize":58,"color":"#262626","align":"center","baseline":"middle"},"encoding":{"text":{"field":"t"}}},
{"data":{"name":"titleText"},"mark":{"type":"text","font":"DejaVu Sans","fontSize":74,"color":"#262626","align":"center","baseline":"middle"},"encoding":{"text":{"field":"t"}}},
{"data":{"name":"zText"},"mark":{"type":"text","font":"DejaVu Sans","fontSize":74,"color":"#262626","align":"center","baseline":"middle","angle":270},"encoding":{"text":{"field":"t"}}}
]}
]}
